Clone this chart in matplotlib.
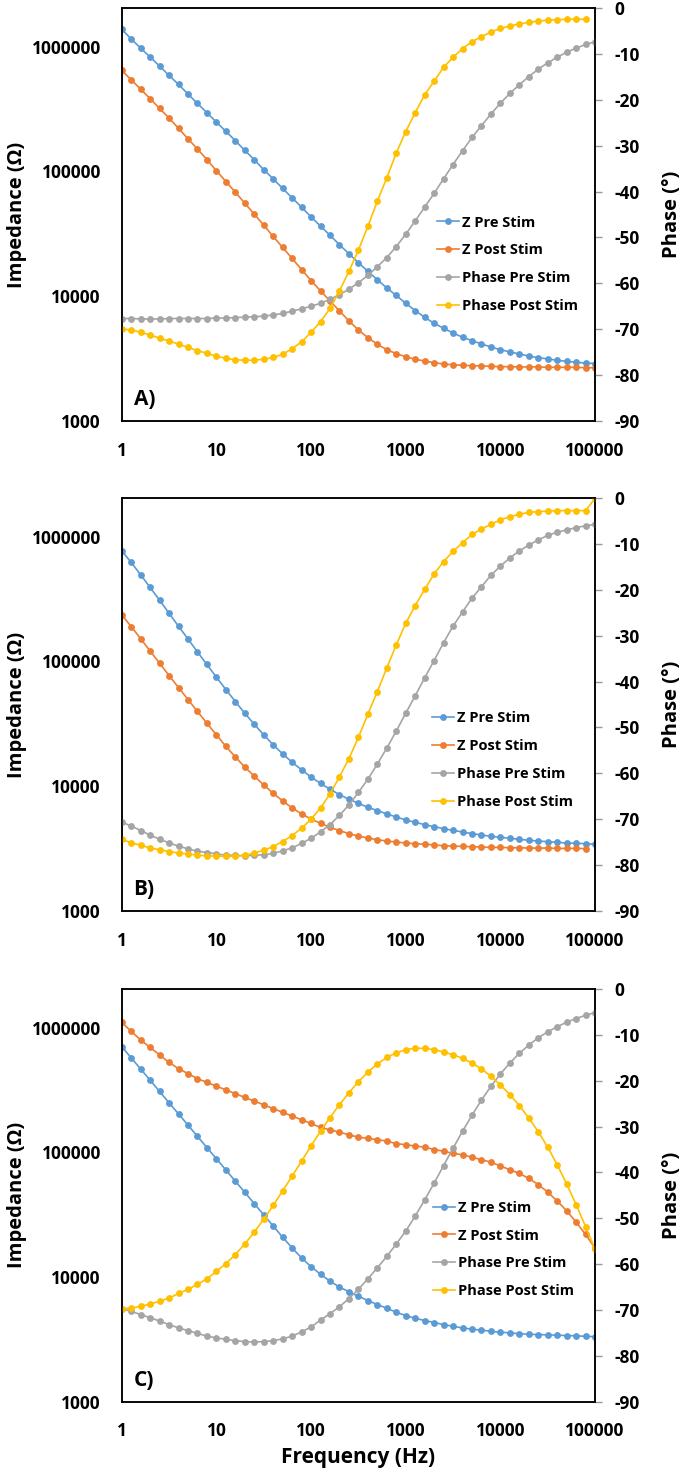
import numpy as np
import matplotlib
matplotlib.use('Agg')
import matplotlib.pyplot as plt
from matplotlib.ticker import FixedLocator, FixedFormatter, NullLocator

plt.rcParams['font.family'] = ['Open Sans', 'DejaVu Sans']
plt.rcParams['font.weight'] = 'bold'

# frequency sweep (Hz), 10 points per decade
freq = [1, 1.259, 1.585, 1.995, 2.512, 3.162, 3.981, 5.012, 6.310, 7.943,
        10, 12.59, 15.85, 19.95, 25.12, 31.62, 39.81, 50.12, 63.10, 79.43,
        100, 125.9, 158.5, 199.5, 251.2, 316.2, 398.1, 501.2, 631.0, 794.3,
        1000, 1259, 1585, 1995, 2512, 3162, 3981, 5012, 6310, 7943,
        10000, 12589, 15849, 19953, 25119, 31623, 39811, 50119, 63096, 79433,
        100000]
nan = np.nan

# ---- panel A ----
a_z_pre = [1380000, 1150000, 973000, 824000, 698000, 587000, 497000, 416000, 350000, 295000,
           248000, 209000, 176000, 147000, 124000, 103000, 87000, 72800, 61300, 51500,
           43100, 36300, 30700, 25800, 21800, 18500, 15800, 13500, 11600, 10100,
           8740, 7640, 6750, 6040, 5510, 5050, 4670, 4390, 4120, 3900,
           3710, 3560, 3430, 3300, 3200, 3130, 3050, 2990, 2940, 2900, 2870]
a_z_post = [644000, 542000, 456000, 382000, 319000, 267000, 221000, 182000, 151000, 124000,
            101000, 82800, 68000, 55500, 45300, 37000, 30000, 24500, 20000, 16300,
            13300, 11000, 9130, 7590, 6310, 5340, 4640, 4100, 3710, 3450,
            3260, 3110, 3010, 2920, 2850, 2810, 2780, 2760, 2750, 2730,
            2710, 2710, 2700, 2700, 2700, 2680, 2680, 2680, 2680, 2660, 2660]
a_ph_pre = [-67.7, -67.7, -67.8, -67.8, -67.8, -67.7, -67.7, -67.7, -67.7, -67.7,
            -67.6, -67.6, -67.5, -67.4, -67.3, -67.2, -66.9, -66.6, -66.1, -65.6,
            -65.0, -64.4, -63.5, -62.5, -61.3, -59.9, -58.3, -56.4, -54.4, -52.0,
            -49.3, -46.4, -43.4, -40.4, -37.2, -34.1, -31.1, -28.2, -25.6, -23.1,
            -20.7, -18.6, -16.7, -14.9, -13.3, -11.9, -10.7, -9.6, -8.7, -7.9, -7.3]
a_ph_post = [-70.0, -70.2, -70.7, -71.3, -72.0, -72.6, -73.3, -74.0, -74.7, -75.3,
             -75.9, -76.4, -76.7, -76.8, -76.8, -76.6, -76.2, -75.5, -74.3, -72.8,
             -70.7, -68.4, -65.5, -61.7, -57.4, -52.8, -47.6, -42.1, -37.0, -31.6,
             -26.9, -22.8, -18.9, -15.9, -12.9, -10.7, -8.8, -7.3, -6.2, -5.2,
             -4.4, -3.9, -3.4, -3.1, -2.8, -2.6, -2.5, -2.4, -2.4, -2.4, nan]

# ---- panel B ----
b_z_pre = [770000, 621000, 494000, 391000, 309000, 243000, 191000, 151000, 119000, 94300,
           74600, 59400, 47600, 38300, 31300, 25700, 21400, 18100, 15500, 13500,
           11800, 10500, 9420, 8530, 7830, 7270, 6750, 6350, 5970, 5650,
           5340, 5120, 4900, 4720, 4550, 4410, 4280, 4150, 4050, 3950,
           3880, 3810, 3740, 3670, 3620, 3580, 3540, 3490, 3470, 3450, 3410]
b_z_post = [236000, 190000, 152000, 121000, 96600, 76900, 61600, 49400, 39600, 31900,
            25700, 20800, 17100, 14200, 12000, 10200, 8740, 7590, 6670, 5970,
            5440, 5020, 4670, 4390, 4150, 3970, 3830, 3710, 3620, 3560,
            3490, 3450, 3410, 3370, 3320, 3300, 3280, 3260, 3240, 3220,
            3220, 3200, 3200, 3180, 3180, 3180, 3160, 3160, 3160, 3150, nan]
b_ph_pre = [-70.7, -71.5, -72.5, -73.5, -74.4, -75.2, -75.9, -76.5, -77.0, -77.3,
            -77.6, -77.9, -77.9, -78.0, -77.9, -77.8, -77.5, -76.9, -76.3, -75.3,
            -74.2, -72.8, -71.2, -69.2, -66.9, -64.2, -61.3, -58.0, -54.5, -50.8,
            -46.9, -43.1, -39.2, -35.4, -31.5, -27.9, -24.8, -21.8, -19.3, -16.8,
            -14.8, -13.0, -11.5, -10.2, -9.1, -8.1, -7.4, -6.9, -6.4, -6.0, -5.7]
b_ph_post = [-74.4, -75.2, -75.7, -76.3, -76.7, -77.1, -77.4, -77.6, -77.9, -78.0,
             -78.1, -78.1, -78.1, -77.9, -77.4, -76.8, -76.0, -74.9, -73.6, -72.0,
             -70.0, -67.6, -64.5, -60.8, -56.8, -52.2, -47.1, -42.2, -37.0, -32.0,
             -27.3, -23.4, -19.9, -16.5, -13.8, -11.6, -9.7, -7.9, -6.7, -5.7,
             -4.7, -4.0, -3.5, -3.1, -2.9, -2.8, -2.7, -2.7, -2.7, -2.7, 0.0]

# ---- panel C ----
c_z_pre = [703000, 571000, 465000, 378000, 307000, 249000, 203000, 165000, 134000, 109000,
           88700, 72100, 58600, 47700, 38700, 31500, 25600, 20800, 17100, 14200,
           12100, 10500, 9250, 8300, 7600, 7000, 6470, 6000, 5610, 5210,
           4900, 4660, 4470, 4310, 4150, 4020, 3900, 3810, 3740, 3670,
           3600, 3560, 3510, 3470, 3450, 3430, 3410, 3390, 3370, 3340, 3320]
c_z_post = [1100000, 933000, 794000, 692000, 603000, 525000, 468000, 427000, 389000, 363000,
            339000, 316000, 295000, 275000, 257000, 240000, 224000, 209000, 195000, 182000,
            170000, 158000, 151000, 145000, 138000, 132000, 129000, 126000, 123000, 117000,
            115000, 112000, 110000, 105000, 102000, 97700, 95500, 91200, 87100, 83200,
            77600, 72400, 67600, 61700, 55000, 47900, 40700, 33900, 27500, 21900, 17000]
c_ph_pre = [-69.7, -70.3, -71.0, -71.7, -72.4, -73.2, -73.9, -74.5, -75.1, -75.7,
            -76.1, -76.4, -76.7, -76.9, -77.0, -76.9, -76.7, -76.3, -75.7, -74.8,
            -73.7, -72.2, -70.8, -69.3, -67.5, -65.5, -63.2, -60.8, -58.3, -55.6,
            -52.8, -49.5, -46.0, -42.3, -38.5, -34.7, -31.0, -27.5, -24.2, -21.2,
            -18.5, -16.1, -14.0, -12.2, -10.6, -9.3, -8.2, -7.2, -6.4, -5.7, -5.1]
c_ph_post = [-69.7, -69.6, -69.2, -68.7, -68.1, -67.4, -66.4, -65.5, -64.4, -63.2,
             -61.6, -59.9, -57.9, -55.6, -53.0, -50.2, -47.2, -44.0, -40.8, -37.5,
             -34.2, -31.0, -28.0, -25.2, -22.6, -20.2, -18.1, -16.3, -14.9, -13.9,
             -13.2, -12.9, -12.9, -13.2, -13.7, -14.3, -15.1, -16.1, -17.4, -19.0,
             -20.9, -23.0, -25.4, -28.1, -31.1, -34.5, -38.3, -42.5, -47.0, -51.8, -56.8]

panels = [
    ('A)', a_z_pre, a_z_post, a_ph_pre, a_ph_post, 0.7142, (0.666, 0.379)),
    ('B)', b_z_pre, b_z_post, b_ph_pre, b_ph_post, 0.3813, (0.655, 0.365)),
    ('C)', c_z_pre, c_z_post, c_ph_pre, c_ph_post, 0.0478, (0.658, 0.369)),
]

labels = ['Z Pre Stim', 'Z Post Stim', 'Phase Pre Stim', 'Phase Post Stim']
colors = ['#5B9BD5', '#ED7D31', '#A5A5A5', '#FFC000']

fig = plt.figure(figsize=(6.85, 14.72), dpi=100)

xticks = [1, 10, 100, 1000, 10000, 100000]
zticks = [1000, 10000, 100000, 1000000]
phticks = list(range(-90, 1, 10))

for name, zpre, zpost, ppre, ppost, bottom, legpos in panels:
    ax = fig.add_axes([0.1777, bottom, 0.691, 0.2802])
    ax2 = ax.twinx()

    lines = []
    for a, y, lab, c in [(ax, zpre, labels[0], colors[0]), (ax, zpost, labels[1], colors[1]),
                         (ax2, ppre, labels[2], colors[2]), (ax2, ppost, labels[3], colors[3])]:
        l, = a.plot(freq, y, color=c, lw=1.2, marker='o', ms=3.9, label=lab)
        lines.append(l)

    ax.set_xscale('log')
    ax.set_yscale('log')
    ax.set_xlim(1, 100000)
    ax.set_ylim(1000, 2.03e6)
    ax2.set_ylim(-90, 0)

    ax.xaxis.set_major_locator(FixedLocator(xticks))
    ax.xaxis.set_major_formatter(FixedFormatter([str(t) for t in xticks]))
    ax.xaxis.set_minor_locator(NullLocator())
    ax.yaxis.set_major_locator(FixedLocator(zticks))
    ax.yaxis.set_major_formatter(FixedFormatter([str(t) for t in zticks]))
    ax.yaxis.set_minor_locator(NullLocator())
    ax2.yaxis.set_major_locator(FixedLocator(phticks))
    ax2.yaxis.set_major_formatter(FixedFormatter([str(t) for t in phticks]))

    ax.tick_params(axis='x', length=0, pad=15, labelsize=12.5)
    ax.tick_params(axis='y', length=0, pad=15, labelsize=12.5)
    ax2.tick_params(axis='y', length=5, width=1, color='#999999', direction='out',
                    pad=9, labelsize=12.5)
    for t in ax.get_xticklabels() + ax.get_yticklabels() + ax2.get_yticklabels():
        t.set_fontweight('bold')

    for sp in list(ax.spines.values()) + list(ax2.spines.values()):
        sp.set_linewidth(1.1)
        sp.set_color('black')

    ax.set_ylabel('Impedance (Ω)', fontsize=14.5, fontweight='bold', labelpad=3)
    ax2.set_ylabel('Phase (°)', fontsize=14.5, fontweight='bold', labelpad=16)

    ax.text(0.025, 0.025, name, transform=ax.transAxes, fontsize=15,
            fontweight='bold', ha='left', va='bottom')

    ax2.legend(lines, labels, loc='center left', bbox_to_anchor=legpos, frameon=False,
               prop={'size': 10.5, 'weight': 'bold'}, borderpad=0, borderaxespad=0,
               handlelength=1.5, handletextpad=0.2, labelspacing=0.95, numpoints=1)

ax.set_xlabel('Frequency (Hz)', fontsize=15, fontweight='bold', labelpad=5)

plt.savefig('out.png', dpi=100)
